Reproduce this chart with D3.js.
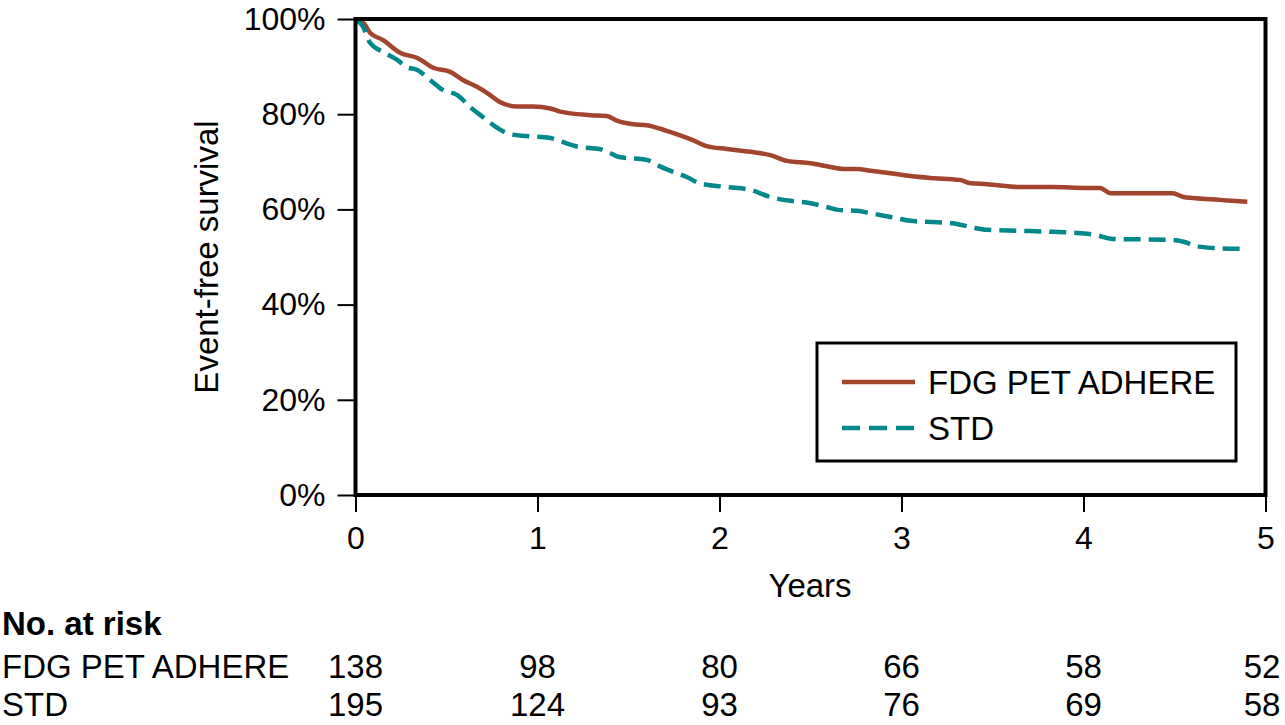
<!DOCTYPE html>
<html>
<head>
<meta charset="utf-8">
<script src="https://cdn.jsdelivr.net/npm/d3@7"></script>
<style>
  body { margin: 0; background: #fff; }
  svg text { font-family: "Liberation Sans", Arial, Helvetica, sans-serif; fill: #000; }
</style>
</head>
<body>
<div id="chart"></div>
<script>
// Kaplan-Meier curves (years, % event-free)
const fdgTime = [0, 0.05, 0.08, 0.15, 0.245, 0.34, 0.43, 0.52, 0.59, 0.67, 0.74, 0.79, 0.89, 0.975, 1.07, 1.12, 1.29, 1.38, 1.44, 1.525, 1.6, 1.71, 1.78, 1.85, 1.93, 2.04, 2.17, 2.28, 2.37, 2.5, 2.61, 2.68, 2.755, 2.83, 2.94, 3.05, 3.16, 3.32, 3.38, 3.47, 3.65, 3.83, 4.02, 4.09, 4.15, 4.255, 4.49, 4.55, 4.6, 4.75, 4.9];
const fdgSurv = [100, 98.9, 97.1, 95.6, 92.9, 91.8, 89.7, 88.9, 87.2, 85.7, 84.0, 82.6, 81.6, 81.6, 81.2, 80.6, 79.8, 79.6, 78.6, 77.9, 77.7, 76.5, 75.6, 74.6, 73.3, 72.7, 72.1, 71.4, 70.2, 69.7, 68.9, 68.5, 68.5, 68.1, 67.6, 67.0, 66.6, 66.2, 65.5, 65.3, 64.7, 64.7, 64.5, 64.5, 63.4, 63.4, 63.4, 62.6, 62.4, 62.0, 61.6];

const stdTime = [0, 0.04, 0.08, 0.15, 0.23, 0.28, 0.34, 0.41, 0.48, 0.56, 0.63, 0.7, 0.78, 0.85, 0.94, 1.07, 1.12, 1.23, 1.34, 1.4, 1.45, 1.6, 1.67, 1.745, 1.82, 1.89, 2.04, 2.17, 2.28, 2.39, 2.5, 2.59, 2.65, 2.755, 2.83, 2.94, 3.05, 3.28, 3.38, 3.47, 3.65, 3.83, 3.98, 4.07, 4.16, 4.49, 4.55, 4.62, 4.71, 4.87];
const stdSurv = [100, 98.5, 95.0, 93.1, 91.4, 89.9, 89.3, 87.2, 85.1, 84.0, 81.5, 79.4, 77.1, 75.8, 75.4, 75.0, 74.4, 73.1, 72.7, 71.8, 71.0, 70.4, 69.1, 67.9, 66.8, 65.5, 64.7, 64.1, 62.6, 61.8, 61.3, 60.5, 59.9, 59.7, 59.2, 58.4, 57.6, 57.1, 56.3, 55.7, 55.5, 55.3, 55.0, 54.6, 53.8, 53.6, 53.2, 52.3, 51.9, 51.7];

const groupNames = ["FDG PET ADHERE", "STD"];
const yearTicks = [0, 1, 2, 3, 4, 5];
const survTicks = [0, 20, 40, 60, 80, 100];
const riskFdg = [138, 98, 80, 66, 58, 52];
const riskStd = [195, 124, 93, 76, 69, 58];

const width = 1285, height = 725;
const margin = { top: 19, right: 19.5, bottom: 230, left: 355.5 };
const red = "#a3452d", teal = "#00888a";
const fontSize = 33;

const svg = d3.select("#chart").append("svg")
  .attr("width", width)
  .attr("height", height);

const x = d3.scaleLinear().domain([0, 5]).range([margin.left, width - margin.right]);
const y = d3.scaleLinear().domain([0, 100]).range([height - margin.bottom, margin.top]);

// Axes: thin ticks, thick frame drawn separately
const xAxis = svg.append("g")
  .attr("transform", `translate(0,${y(0)})`)
  .call(d3.axisBottom(x).tickValues(yearTicks).tickSize(17).tickPadding(14).tickFormat(d3.format("d")));
const yAxis = svg.append("g")
  .attr("transform", `translate(${x(0)},0)`)
  .call(d3.axisLeft(y).tickValues(survTicks).tickSize(18).tickPadding(12).tickFormat(d => d + "%"));

[xAxis, yAxis].forEach(a => {
  a.select(".domain").remove();
  a.selectAll(".tick line").attr("stroke", "#000").attr("stroke-width", 2);
  a.selectAll(".tick text").attr("font-size", 32).attr("fill", "#000")
    .style("font-family", "'Liberation Sans', Arial, sans-serif");
});

// Curves
const line = d3.line()
  .x(d => x(d[0]))
  .y(d => y(d[1]))
  .curve(d3.curveMonotoneX);

svg.append("path")
  .datum(fdgTime.map((t, i) => [t, fdgSurv[i]]))
  .attr("fill", "none")
  .attr("stroke", red)
  .attr("stroke-width", 4.5)
  .attr("d", line);

svg.append("path")
  .datum(stdTime.map((t, i) => [t, stdSurv[i]]))
  .attr("fill", "none")
  .attr("stroke", teal)
  .attr("stroke-width", 4.5)
  .attr("stroke-dasharray", "17,8")
  .attr("d", line);

// Frame
svg.append("rect")
  .attr("x", x(0)).attr("y", y(100))
  .attr("width", x(5) - x(0)).attr("height", y(0) - y(100))
  .attr("fill", "none")
  .attr("stroke", "#000")
  .attr("stroke-width", 4);

// Axis titles
svg.append("text")
  .attr("x", 810).attr("y", 597)
  .attr("text-anchor", "middle")
  .attr("font-size", fontSize)
  .text("Years");

svg.append("text")
  .attr("transform", `translate(218,${(y(0) + y(100)) / 2}) rotate(-90)`)
  .attr("text-anchor", "middle")
  .attr("font-size", fontSize)
  .text("Event-free survival");

// Legend
const legend = svg.append("g");
legend.append("rect")
  .attr("x", 817).attr("y", 343)
  .attr("width", 419).attr("height", 118)
  .attr("fill", "#fff")
  .attr("stroke", "#000")
  .attr("stroke-width", 3);

const legendItems = [
  { name: groupNames[0], color: red, dash: null, y: 382 },
  { name: groupNames[1], color: teal, dash: "18,9", y: 428 }
];
legendItems.forEach(it => {
  legend.append("line")
    .attr("x1", 842).attr("x2", 915)
    .attr("y1", it.y).attr("y2", it.y)
    .attr("stroke", it.color)
    .attr("stroke-width", 4.5)
    .attr("stroke-dasharray", it.dash);
  legend.append("text")
    .attr("x", 928).attr("y", it.y + 12)
    .attr("font-size", fontSize)
    .text(it.name);
});

// Number at risk table
svg.append("text")
  .attr("x", 2).attr("y", 635)
  .attr("font-size", fontSize)
  .attr("font-weight", "bold")
  .text("No. at risk");

const rows = [
  { name: groupNames[0], values: riskFdg, y: 678 },
  { name: groupNames[1], values: riskStd, y: 716 }
];
rows.forEach(r => {
  svg.append("text")
    .attr("x", 2).attr("y", r.y)
    .attr("font-size", fontSize)
    .text(r.name);
  svg.selectAll(null)
    .data(r.values)
    .join("text")
    .attr("x", (d, i) => Math.min(x(yearTicks[i]), width - 23))
    .attr("y", r.y)
    .attr("text-anchor", "middle")
    .attr("font-size", fontSize)
    .text(d => d);
});
</script>
</body>
</html>
